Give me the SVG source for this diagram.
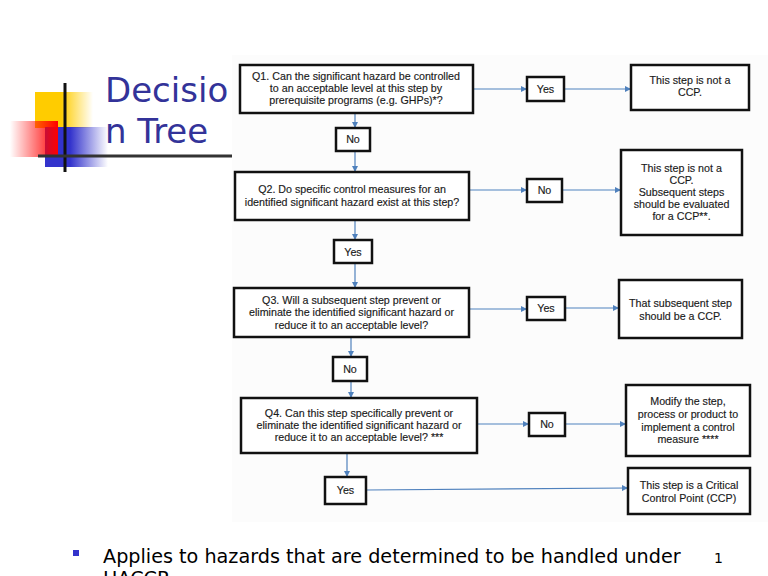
<svg xmlns="http://www.w3.org/2000/svg" width="768" height="576" viewBox="0 0 768 576">
<defs>
<linearGradient id="gy" x1="0" x2="1" y1="0" y2="0"><stop offset="0" stop-color="#ffcc00"/><stop offset="0.45" stop-color="#ffcc00"/><stop offset="1" stop-color="#ffcc00" stop-opacity="0"/></linearGradient>
<linearGradient id="gr" x1="0" x2="1" y1="0" y2="0"><stop offset="0" stop-color="#ff0000" stop-opacity="0"/><stop offset="1" stop-color="#ff0000"/></linearGradient>
<linearGradient id="gb" x1="0" x2="1" y1="0" y2="0"><stop offset="0" stop-color="#3333cc"/><stop offset="0.4" stop-color="#3333cc"/><stop offset="1" stop-color="#3333cc" stop-opacity="0"/></linearGradient>
<marker id="ar" viewBox="0 0 8 8" refX="8" refY="4" markerWidth="6" markerHeight="6" orient="auto" markerUnits="userSpaceOnUse"><path d="M0,0 L8,4 L0,8 z" fill="#4f81bd"/></marker>
</defs>
<style>
.box{fill:#fff;stroke:#111;stroke-width:2.5}
.t{font-family:"Liberation Sans",Arial,sans-serif;font-size:10.7px;fill:#1a1a1a;stroke:#1a1a1a;stroke-width:0.15;text-anchor:middle}
.c{fill:none;stroke:#4f81bd;stroke-width:1.2;marker-end:url(#ar)}
.title{font-family:"DejaVu Sans",Verdana,sans-serif;font-size:34px;fill:#333399}
.body{font-family:"DejaVu Sans",Verdana,sans-serif;font-size:19.2px;fill:#000}
</style>
<rect width="768" height="576" fill="#fff"/>
<g id="decoration">
<rect x="35" y="92" width="58" height="36" fill="url(#gy)"/>
<rect x="45" y="127" width="63" height="40" fill="url(#gb)"/>
<rect x="10" y="121" width="48" height="36" fill="url(#gr)"/>
<line x1="65" y1="83" x2="65" y2="172" stroke="#111" stroke-width="3"/>
<line x1="38" y1="156" x2="233" y2="156" stroke="#333" stroke-width="3"/>
</g>
<g id="title">
<text class="title" x="105" y="102">Decisio</text>
<text class="title" x="105" y="143">n Tree</text>
</g>
<rect x="232" y="55" width="538" height="467" fill="#fcfcfc"/>
<g id="connectors">
<path class="c" d="M473,89 H527"/>
<path class="c" d="M564,89 H631"/>
<path class="c" d="M355,113 V128"/>
<path class="c" d="M355,151 V172"/>
<path class="c" d="M469,190 H527"/>
<path class="c" d="M562,190 H621"/>
<path class="c" d="M355,220 V240"/>
<path class="c" d="M355,263 V288"/>
<path class="c" d="M469,309 H527"/>
<path class="c" d="M565,308 H619"/>
<path class="c" d="M351,337 V357"/>
<path class="c" d="M351,381 V398"/>
<path class="c" d="M477,424 H529"/>
<path class="c" d="M565,424 H626"/>
<path class="c" d="M347,453 V477"/>
<path class="c" d="M366,490 L628,488"/>
</g>
<g id="q1"><rect class="box" x="240" y="65" width="233" height="48"/>
<text class="t" x="356" y="80">Q1. Can the significant hazard be controlled</text>
<text class="t" x="356" y="92">to an acceptable level at this step by</text>
<text class="t" x="356" y="104">prerequisite programs (e.g. GHPs)*?</text></g>
<g id="yes1"><rect class="box" x="527" y="77" width="37" height="24"/><text class="t" x="545.5" y="93">Yes</text></g>
<g id="r1"><rect class="box" x="631" y="65" width="118" height="45"/>
<text class="t" x="690" y="84">This step is not a</text><text class="t" x="690" y="96">CCP.</text></g>
<g id="no1"><rect class="box" x="336" y="128" width="34" height="23"/><text class="t" x="353" y="143">No</text></g>
<g id="q2"><rect class="box" x="235" y="172" width="234" height="48"/>
<text class="t" x="352" y="193">Q2. Do specific control measures for an</text>
<text class="t" x="352" y="206">identified significant hazard exist at this step?</text></g>
<g id="no2"><rect class="box" x="527" y="179" width="35" height="23"/><text class="t" x="544.5" y="194">No</text></g>
<g id="r2"><rect class="box" x="621" y="150" width="121" height="85"/>
<text class="t" x="681.5" y="172">This step is not a</text>
<text class="t" x="681.5" y="184">CCP.</text>
<text class="t" x="681.5" y="196">Subsequent steps</text>
<text class="t" x="681.5" y="208">should be evaluated</text>
<text class="t" x="681.5" y="220">for a CCP**.</text></g>
<g id="yes2"><rect class="box" x="334" y="240" width="38" height="23"/><text class="t" x="353" y="256">Yes</text></g>
<g id="q3"><rect class="box" x="234" y="288" width="235" height="49"/>
<text class="t" x="351.5" y="304">Q3. Will a subsequent step prevent or</text>
<text class="t" x="351.5" y="316">eliminate the identified significant hazard or</text>
<text class="t" x="351.5" y="329">reduce it to an acceptable level?</text></g>
<g id="yes3"><rect class="box" x="527" y="297" width="38" height="23"/><text class="t" x="546" y="312">Yes</text></g>
<g id="r3"><rect class="box" x="619" y="280" width="123" height="58"/>
<text class="t" x="680.5" y="307">That subsequent step</text>
<text class="t" x="680.5" y="320">should be a CCP.</text></g>
<g id="no3"><rect class="box" x="333" y="357" width="34" height="24"/><text class="t" x="350" y="373">No</text></g>
<g id="q4"><rect class="box" x="241" y="398" width="236" height="55"/>
<text class="t" x="359" y="417">Q4. Can this step specifically prevent or</text>
<text class="t" x="359" y="429">eliminate the identified significant hazard or</text>
<text class="t" x="359" y="441">reduce it to an acceptable level? ***</text></g>
<g id="no4"><rect class="box" x="529" y="413" width="36" height="23"/><text class="t" x="547" y="428">No</text></g>
<g id="r4"><rect class="box" x="626" y="385" width="124" height="71"/>
<text class="t" x="688" y="405">Modify the step,</text>
<text class="t" x="688" y="418">process or product to</text>
<text class="t" x="688" y="431">implement a control</text>
<text class="t" x="688" y="443">measure ****</text></g>
<g id="yes4"><rect class="box" x="325" y="477" width="41" height="27"/><text class="t" x="345.5" y="494">Yes</text></g>
<g id="r5"><rect class="box" x="628" y="468" width="122" height="46"/>
<text class="t" x="689" y="489">This step is a Critical</text>
<text class="t" x="689" y="502">Control Point (CCP)</text></g>
<g id="bullet">
<rect x="73" y="550" width="6" height="6" fill="#3333cc"/>
<text class="body" x="103" y="563">Applies to hazards that are determined to be handled under</text>
<text class="body" x="103" y="585">HACCP</text>
<text x="714" y="563" font-family="DejaVu Sans,sans-serif" font-size="14" fill="#000">1</text>
</g>
</svg>
